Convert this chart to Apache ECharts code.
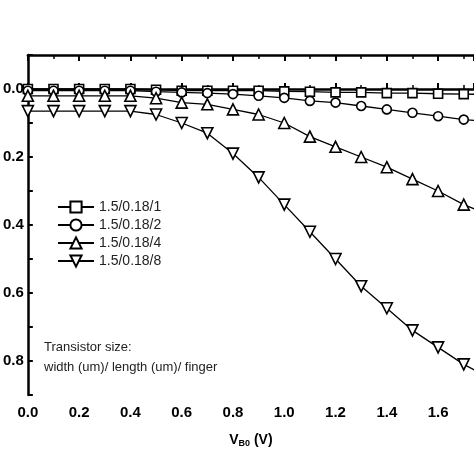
<!DOCTYPE html>
<html>
<head>
<meta charset="utf-8">
<script src="https://cdn.jsdelivr.net/npm/echarts@6/dist/echarts.min.js"></script>
<style>html,body{margin:0;padding:0;background:#fff}#chart{width:474px;height:474px}</style>
</head>
<body>
<div id="chart"></div>
<script>
const vb = [0.0, 0.1, 0.2, 0.3, 0.4, 0.5, 0.6, 0.7, 0.8, 0.9, 1.0, 1.1, 1.2, 1.3, 1.4, 1.5, 1.6, 1.7, 1.8];
const names = ['1.5/0.18/1', '1.5/0.18/2', '1.5/0.18/4', '1.5/0.18/8'];
const f1 = [0, 0, 0, 0, 0, 0.002, 0.005, 0.005, 0.005, 0.005, 0.007, 0.008, 0.01, 0.01, 0.012, 0.012, 0.014, 0.015, 0.016];
const f2 = [0.005, 0.005, 0.005, 0.005, 0.005, 0.008, 0.01, 0.012, 0.015, 0.02, 0.026, 0.035, 0.04, 0.05, 0.06, 0.07, 0.08, 0.09, 0.095];
const f4 = [0.02, 0.02, 0.02, 0.02, 0.02, 0.027, 0.04, 0.045, 0.06, 0.075, 0.1, 0.14, 0.17, 0.2, 0.23, 0.265, 0.3, 0.34, 0.37];
const f8 = [0.065, 0.065, 0.065, 0.065, 0.065, 0.075, 0.1, 0.13, 0.19, 0.26, 0.34, 0.42, 0.5, 0.58, 0.645, 0.71, 0.76, 0.81, 0.85];

const symbols = ['rect', 'circle', 'triangle', 'path://M0,0L10,0L5,10Z'];
const values = [f1, f2, f4, f8];

const chart = echarts.init(document.getElementById('chart'));
const black = '#000';
const font = 'Arial, "Liberation Sans", sans-serif';

// the reference is cropped on the right, so the axis ends a little past 1.7
const xMax = 1.74;

chart.setOption({
    animation: false,
    grid: { left: 17, top: 55, right: 0, bottom: 79 },
    legend: {
        orient: 'vertical',
        left: 52, top: 195,
        itemGap: 4,
        itemWidth: 36, itemHeight: 14,
        textStyle: { fontFamily: font, fontSize: 14, color: '#222' },
        data: names
    },
    xAxis: [{
        type: 'value', min: 0, max: xMax, interval: 0.2,
        name: '{a|V}{b|B0}{a| (V)}',
        nameLocation: 'middle', nameGap: 38,
        nameTextStyle: {
            rich: {
                a: { fontFamily: font, fontSize: 14, fontWeight: 'bold', color: black },
                b: { fontFamily: font, fontSize: 9, fontWeight: 'bold', color: black, verticalAlign: 'bottom', padding: [6, 0, 0, 0] }
            }
        },
        axisLine: { lineStyle: { color: black, width: 2.5 } },
        axisTick: { inside: true, length: 6, lineStyle: { width: 2 } },
        minorTick: { show: true, splitNumber: 2, length: 4, lineStyle: { color: black, width: 1.5 } },
        axisLabel: { fontFamily: font, fontSize: 15, fontWeight: 'bold', color: black, margin: 10, showMaxLabel: false, formatter: v => v.toFixed(1) },
        splitLine: { show: false }
    }, {
        type: 'value', position: 'top', min: 0, max: xMax, interval: 0.2,
        axisLine: { lineStyle: { color: black, width: 2.5 } },
        axisTick: { inside: true, length: 6, lineStyle: { width: 2 } },
        minorTick: { show: true, splitNumber: 2, length: 4, lineStyle: { color: black, width: 1.5 } },
        axisLabel: { show: false },
        splitLine: { show: false }
    }],
    yAxis: {
        type: 'value', inverse: true, min: -0.1, max: 0.9, interval: 0.1,
        axisLine: { show: true, lineStyle: { color: black, width: 2.5 } },
        axisTick: { inside: true, length: 5, lineStyle: { width: 2 } },
        axisLabel: {
            fontFamily: font, fontSize: 15, fontWeight: 'bold', color: black, margin: 4,
            formatter: v => {
                const k = Math.round(v * 10);
                return (k >= 0 && k % 2 === 0) ? (k / 10).toFixed(1) : '';
            }
        },
        splitLine: { show: false }
    },
    graphic: [
        { type: 'text', left: 44, top: 341, style: { text: 'Transistor size:', font: '13px Arial, "Liberation Sans", sans-serif', fill: '#222' } },
        { type: 'text', left: 44, top: 361, style: { text: 'width (um)/ length (um)/ finger', font: '13px Arial, "Liberation Sans", sans-serif', fill: '#222' } }
    ],
    series: names.map((n, i) => ({
        name: n,
        type: 'line',
        data: vb.map((x, j) => [x, values[i][j]]),
        symbol: symbols[i],
        symbolSize: i >= 2 ? 11 : 9,
        showAllSymbol: true,
        lineStyle: { color: black, width: 1.3 },
        itemStyle: { color: '#fff', borderColor: black, borderWidth: 1.6 }
    }))
});
</script>
</body>
</html>
